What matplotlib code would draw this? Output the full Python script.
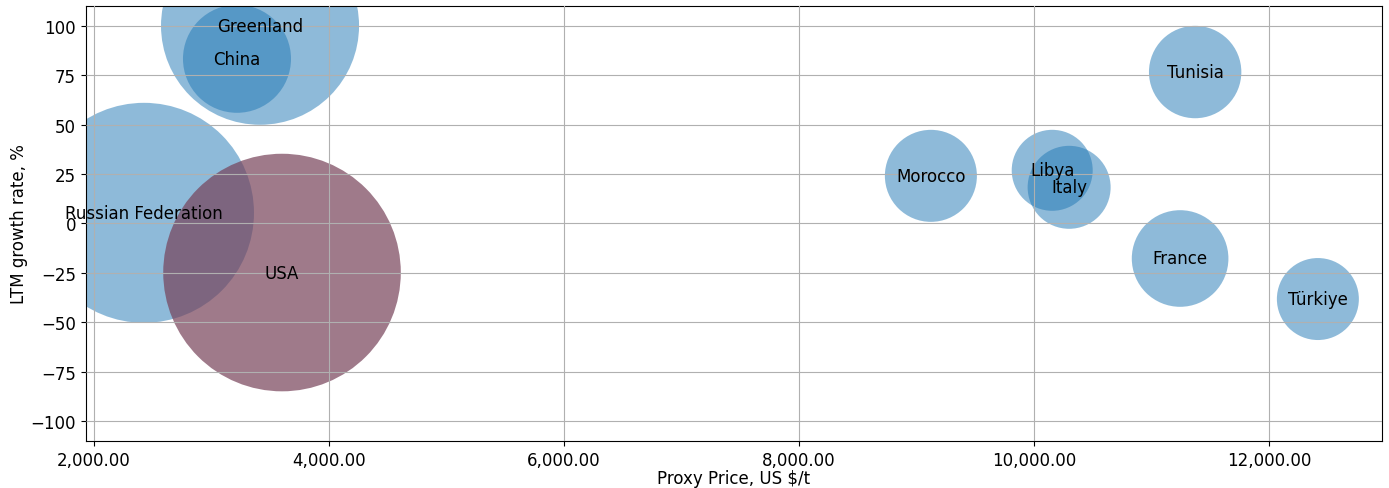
import matplotlib.pyplot as plt
from matplotlib.ticker import StrMethodFormatter

countries = ["Russian Federation", "USA", "Greenland", "China", "Morocco",
             "Libya", "Italy", "Tunisia", "France", "Türkiye"]
proxy_price = [2428, 3602, 3415, 3219, 9122, 10154, 10298, 11370, 11242, 12414]
growth_rate = [5.4, -24.8, 100.0, 83.3, 24.1, 26.9, 18.3, 76.6, -17.7, -38.2]
volume = [25090, 29260, 20330, 6050, 4390, 3400, 3570, 4425, 4840, 3485]
highlight = "USA"

fig = plt.figure(figsize=(13.89, 4.89), dpi=100)
ax = fig.add_axes([0.0617, 0.0961, 0.9333, 0.8896])

for name, x, y, v in zip(countries, proxy_price, growth_rate, volume):
    if name == highlight:
        ax.scatter(x, y, s=v, color="#774259", alpha=0.7, edgecolors="none")
    else:
        ax.scatter(x, y, s=v, color="tab:blue", alpha=0.5, edgecolors="none")
    ax.text(x, y, name, ha="center", va="center", fontsize=12)

ax.set_xlim(1932, 12960)
ax.set_ylim(-110, 110)
ax.set_xticks([2000, 4000, 6000, 8000, 10000, 12000])
ax.set_yticks([-100, -75, -50, -25, 0, 25, 50, 75, 100])
ax.xaxis.set_major_formatter(StrMethodFormatter("{x:,.2f}"))
ax.tick_params(labelsize=12)
ax.set_axisbelow(False)
ax.grid(True)
ax.set_xlabel("Proxy Price, US $/t", fontsize=12, labelpad=0.5)
ax.set_ylabel("LTM growth rate, %", fontsize=12, labelpad=2)

fig.savefig("out.png")
